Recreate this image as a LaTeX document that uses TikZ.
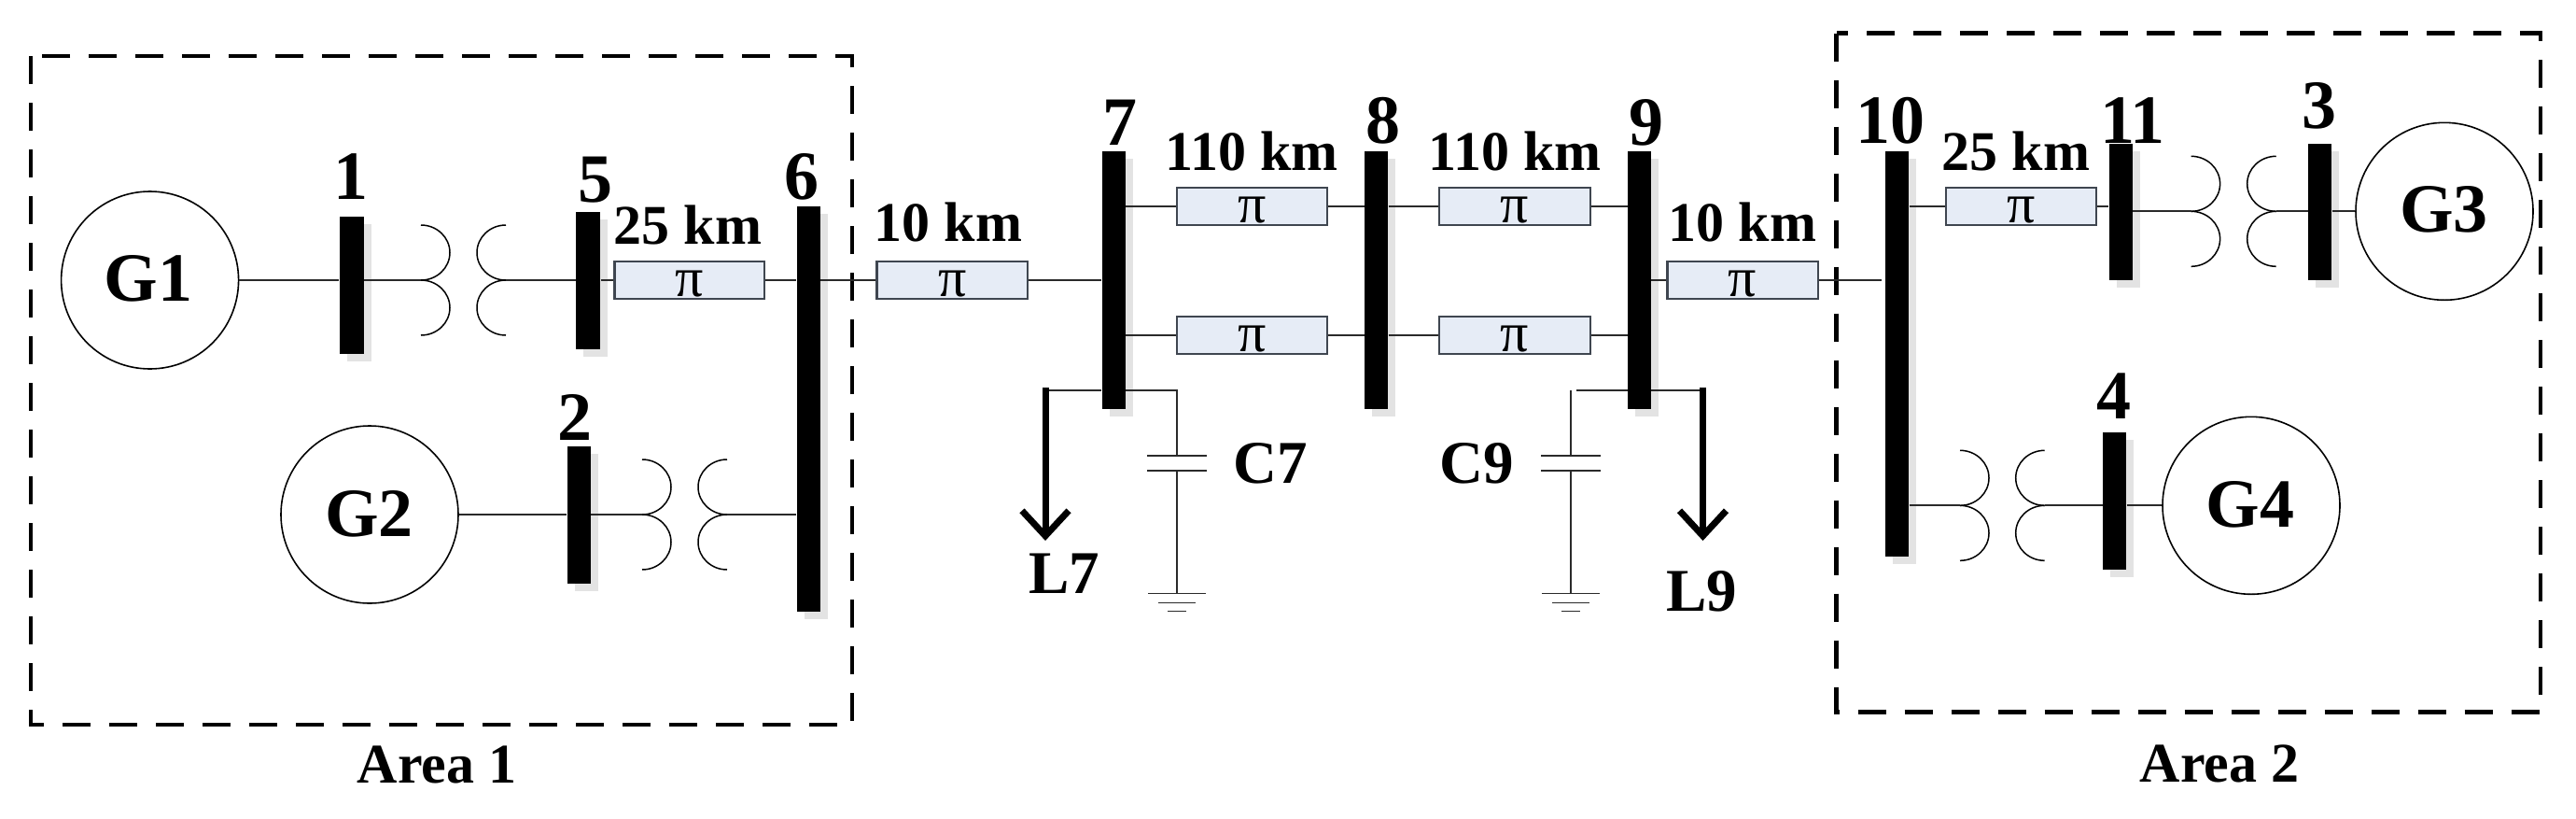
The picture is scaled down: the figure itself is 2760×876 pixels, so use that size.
\documentclass[tikz,border=0pt]{standalone}
\usepackage{fontspec}
\setmainfont{Liberation Serif}
\usetikzlibrary{shadows,arrows.meta}
\definecolor{shadowgray}{HTML}{E3E3E3}
\definecolor{wire}{HTML}{2A2A2A}
\definecolor{pifill}{HTML}{E6ECF6}
\definecolor{piedge}{HTML}{3F4650}
\tikzset{
  bus/.style={fill=black,inner sep=0pt,general shadow={fill=shadowgray,shadow xshift=8pt,shadow yshift=-8pt}},
  gen/.style={circle,draw=black,line width=1.6pt,minimum size=190pt,inner sep=0pt},
  pibox/.style={draw=piedge,fill=pifill,line width=2.2pt,inner sep=0pt,minimum height=39.5pt,
     label={[yshift=-4pt,font=\fontsize{60}{60}\selectfont,inner sep=0pt]center:π}},
  wireline/.style={draw=wire,line width=2pt},
  thin wire/.style={draw=wire,line width=1.7pt},
  coil/.style={draw=black,line width=1.5pt},
  areabox/.style={draw=black,line width=4.2pt,dash pattern=on 30pt off 20pt},
  loadarrow/.style={draw=black,line width=7pt,-{Straight Barb[length=27pt,width=50pt,line width=7pt]}},
  buslabel/.style={font=\bfseries\fontsize{74}{74}\selectfont,inner sep=0pt,anchor=base},
  lenlabel/.style={font=\bfseries\fontsize{60}{60}\selectfont,inner sep=0pt,anchor=base},
  genlabel/.style={font=\bfseries\fontsize{74}{74}\selectfont,inner sep=0pt,anchor=base},
  devlabel/.style={font=\bfseries\fontsize{65}{65}\selectfont,inner sep=0pt,anchor=base},
  arealabel/.style={font=\bfseries\fontsize{60}{60}\selectfont,inner sep=0pt,anchor=base},
}
% two-winding symbol: #1 name, #2 left junction x, #3 right junction x, #4 y, #5 half height of one arc
\newcommand{\xfmr}[5]{%
  \coordinate (#1l) at (#2,#4);
  \coordinate (#1r) at (#3,#4);
  \draw[coil] (#1l) arc[start angle=90,end angle=-90,x radius=31pt,y radius=#5pt];
  \draw[coil] (#1l) arc[start angle=-90,end angle=90,x radius=31pt,y radius=#5pt];
  \draw[coil] (#1r) arc[start angle=90,end angle=270,x radius=31pt,y radius=#5pt];
  \draw[coil] (#1r) arc[start angle=270,end angle=90,x radius=31pt,y radius=#5pt];
}
% earth symbol below a named coordinate
\newcommand{\earth}[1]{%
  \draw[thin wire] ([xshift=-31pt]#1) -- ([xshift=31pt]#1);
  \draw[thin wire] ([xshift=-20pt,yshift=-10pt]#1) -- ([xshift=20pt,yshift=-10pt]#1);
  \draw[thin wire] ([xshift=-10pt,yshift=-19pt]#1) -- ([xshift=10pt,yshift=-19pt]#1);
}
% capacitor plates at named coordinates
\newcommand{\plates}[2]{%
  \draw[thin wire] ([xshift=-32pt]#1) -- ([xshift=32pt]#1);
  \draw[thin wire] ([xshift=-32pt]#2) -- ([xshift=32pt]#2);
}
\begin{document}
\begin{tikzpicture}[x=1pt,y=-1pt]
\useasboundingbox (0,0) rectangle (2760,876);

% area frames
\draw[areabox] (33,60) rectangle (913,776);
\draw[areabox] (1967.5,35.5) rectangle (2721.7,762.4);

% generators
\node[gen] (g1) at (160.6,300) {};
\node[gen] (g2) at (396,551) {};
\node[gen] (g3) at (2619,226.3) {};
\node[gen] (g4) at (2412,541.3) {};

% buses
\node[bus,minimum width=26pt,minimum height=147pt] (b1) at (376.5,305.5) {};
\node[bus,minimum width=26pt,minimum height=147pt] (b5) at (630.4,300) {};
\node[bus,minimum width=25.5pt,minimum height=434pt] (b6) at (866.4,437.7) {};
\node[bus,minimum width=25.5pt,minimum height=147pt] (b2) at (620.4,551.5) {};
\node[bus,minimum width=25.5pt,minimum height=276pt] (b7) at (1193.3,300) {};
\node[bus,minimum width=25.5pt,minimum height=276pt] (b8) at (1474.6,300) {};
\node[bus,minimum width=25.5pt,minimum height=276pt] (b9) at (1756.5,300) {};
\node[bus,minimum width=25.5pt,minimum height=434pt] (b10) at (2032.7,379) {};
\node[bus,minimum width=25.5pt,minimum height=146pt] (b11) at (2272.4,226.8) {};
\node[bus,minimum width=25.5pt,minimum height=146pt] (b3) at (2485.7,226.8) {};
\node[bus,minimum width=25.5pt,minimum height=147pt] (b4) at (2265.7,536.5) {};

% line sections
\node[pibox,minimum width=160.5pt] (p56) at (738.8,300) {};
\node[pibox,minimum width=161.5pt] (p67) at (1020.2,300) {};
\node[pibox,minimum width=160.7pt] (p78a) at (1341.3,221) {};
\node[pibox,minimum width=160.7pt] (p78b) at (1341.3,359) {};
\node[pibox,minimum width=161.6pt] (p89a) at (1622.8,221) {};
\node[pibox,minimum width=161.6pt] (p89b) at (1622.8,359) {};
\node[pibox,minimum width=161.2pt] (p910) at (1867.1,300) {};
\node[pibox,minimum width=161pt] (p1011) at (2165.5,221) {};

% transformers
\xfmr{t1}{451}{542}{300}{29.5}
\xfmr{t2}{688}{779}{551}{29.5}
\xfmr{t3}{2347.6}{2438.7}{226.3}{29.5}
\xfmr{t4}{2100}{2190.7}{541.3}{29.5}

% connectors
\draw[wireline] (g1.east) -- (b1.west |- g1.east);
\draw[wireline] (b1.east |- t1l) -- (t1l);
\draw[wireline] (t1r) -- (b5.west |- t1r);
\draw[wireline] (b5.east |- p56.west) -- (p56.west);
\draw[wireline] (p56.east) -- (b6.west |- p56.east);
\draw[wireline] (b6.east |- p67.west) -- (p67.west);
\draw[wireline] (p67.east) -- (b7.west |- p67.east);
\draw[wireline] (g2.east) -- (b2.west |- g2.east);
\draw[wireline] (b2.east |- t2l) -- (t2l);
\draw[wireline] (t2r) -- (b6.west |- t2r);
\draw[wireline] (b7.east |- p78a.west) -- (p78a.west);
\draw[wireline] (p78a.east) -- (b8.west |- p78a.east);
\draw[wireline] (b7.east |- p78b.west) -- (p78b.west);
\draw[wireline] (p78b.east) -- (b8.west |- p78b.east);
\draw[wireline] (b8.east |- p89a.west) -- (p89a.west);
\draw[wireline] (p89a.east) -- (b9.west |- p89a.east);
\draw[wireline] (b8.east |- p89b.west) -- (p89b.west);
\draw[wireline] (p89b.east) -- (b9.west |- p89b.east);
\draw[wireline] (b9.east |- p910.west) -- (p910.west);
\coordinate (e10) at (2015.7,300);
\draw[wireline] (p910.east) -- (e10);
\draw[wireline] (b10.east |- p1011.west) -- (p1011.west);
\draw[wireline] (p1011.east) -- (b11.west |- p1011.east);
\draw[wireline] (b11.east |- t3l) -- (t3l);
\draw[wireline] (t3r) -- (b3.west |- t3r);
\draw[wireline] (b3.east |- g3.west) -- (g3.west);
\draw[wireline] (b10.east |- t4l) -- (t4l);
\draw[wireline] (t4r) -- (b4.west |- t4r);
\draw[wireline] (b4.east |- g4.west) -- (g4.west);

% loads
\coordinate (l7top) at (1120,418);
\coordinate (l7tip) at (1120,579);
\coordinate (l9top) at (1824.5,418);
\coordinate (l9tip) at (1824.5,579);
\draw[wireline] (l7top) -- (b7.west |- l7top);
\draw[wireline] (b9.east |- l9top) -- (l9top);
\draw[loadarrow] ([yshift=3pt]l7top) -- (l7tip);
\draw[loadarrow] ([yshift=3pt]l9top) -- (l9tip);

% shunt capacitors
\coordinate (c7top) at (1261,418);
\coordinate (c7a) at (1261,488);
\coordinate (c7b) at (1261,504);
\coordinate (c7g) at (1261,635.6);
\coordinate (c9top) at (1682.5,418);
\coordinate (c9a) at (1683,488);
\coordinate (c9b) at (1683,504);
\coordinate (c9g) at (1683,635.6);
\draw[thin wire] (b7.east |- c7top) -- (c7top) -- (c7a);
\draw[thin wire] (c7b) -- (c7g);
\plates{c7a}{c7b}
\earth{c7g}
\coordinate (c9stub) at (1689,418);
\draw[thin wire] (c9a) -- (c9a |- c9top);
\draw[wireline] (c9stub) -- (b9.west |- c9stub);
\draw[thin wire] (c9b) -- (c9g);
\plates{c9a}{c9b}
\earth{c9g}

% bus numbers
\node[buslabel] (n1) at (375.6,213.3) {1};
\node[buslabel] (n5) at (637.6,216) {5};
\node[buslabel] (n6) at (858.5,213.3) {6};
\node[buslabel] (n2) at (616,471) {2};
\node[buslabel] (n7) at (1200,155) {7};
\node[buslabel] (n8) at (1481.6,153) {8};
\node[buslabel] (n9) at (1763.5,155) {9};
\node[buslabel] (n10) at (2025,153.7) {10};
\node[buslabel] (n11) at (2285,153.7) {11};
\node[buslabel] (n3) at (2485,137.4) {3};
\node[buslabel] (n4) at (2264.8,448.5) {4};

% line lengths
\node[lenlabel] (d56) at (737,261) {25 km};
\node[lenlabel] (d67) at (1016,258.7) {10 km};
\node[lenlabel] (d78) at (1341,182) {110 km};
\node[lenlabel] (d89) at (1623,182) {110 km};
\node[lenlabel] (d910) at (1867,258.7) {10 km};
\node[lenlabel] (d1011) at (2160,182) {25 km};

% generator names
\node[genlabel] (tg1) at (159,322.6) {G1};
\node[genlabel] (tg2) at (395.6,574) {G2};
\node[genlabel] (tg3) at (2618.6,248) {G3};
\node[genlabel] (tg4) at (2411,564) {G4};

% device names
\node[devlabel] (tc7) at (1361.7,517) {C7};
\node[devlabel] (tc9) at (1582.4,517) {C9};
\node[devlabel] (tl7) at (1140,635.6) {L7};
\node[devlabel] (tl9) at (1823.5,654.5) {L9};

% area names
\node[arealabel] (a1) at (468,838.7) {Area 1};
\node[arealabel] (a2) at (2378,837) {Area 2};
\end{tikzpicture}
\end{document}
